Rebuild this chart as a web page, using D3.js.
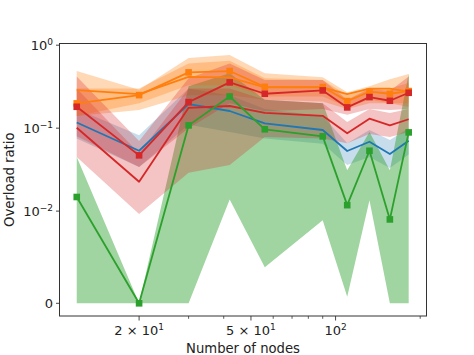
<!DOCTYPE html>
<html><head><meta charset="utf-8">
<script src="https://cdn.jsdelivr.net/npm/d3@7"></script>
<style>
body{margin:0;background:#fff}
text{font-family:"DejaVu Sans",sans-serif;fill:#222}
</style>
</head><body><svg id="c" width="474" height="355"></svg>
<script>
// ---- data ----
const nodes = [12, 20, 30, 42, 56, 90, 110, 132, 156, 182];

const blueLine = [0.117, 0.0534, 0.195, 0.161, 0.114, 0.095, 0.053, 0.0686, 0.0488, 0.0705];
const blueLow  = [0.075, 0.034, 0.11, 0.09, 0.075, 0.065, 0.036, 0.045, 0.033, 0.048];
const blueHigh = [0.17, 0.082, 0.3, 0.25, 0.17, 0.14, 0.066, 0.095, 0.072, 0.1];

const orangeLine = [0.288, 0.257, 0.416, 0.41, 0.31, 0.31, 0.257, 0.30, 0.30, 0.275];
const orangeLow  = [0.14, 0.165, 0.25, 0.25, 0.22, 0.21, 0.17, 0.2, 0.2, 0.18];
const orangeHigh = [0.49, 0.29, 0.70, 0.76, 0.46, 0.41, 0.27, 0.32, 0.39, 0.45];

const orangeSq     = [0.199, 0.25, 0.47, 0.488, 0.315, 0.313, 0.212, 0.275, 0.26, 0.28];
const orangeSqLow  = [0.14, 0.2, 0.33, 0.33, 0.24, 0.24, 0.18, 0.22, 0.2, 0.2];
const orangeSqHigh = [0.3, 0.3, 0.6, 0.65, 0.4, 0.38, 0.25, 0.3, 0.3, 0.35];

const redLine = [0.101, 0.0226, 0.176, 0.185, 0.153, 0.141, 0.0866, 0.13, 0.108, 0.128];
const redLow  = [0.045, 0.0097, 0.029, 0.036, 0.078, 0.075, 0.066, 0.085, 0.078, 0.09];
const redHigh = [0.3, 0.05, 0.3, 0.3, 0.22, 0.2, 0.119, 0.17, 0.152, 0.17];

const redSq     = [0.181, 0.047, 0.206, 0.356, 0.26, 0.285, 0.178, 0.237, 0.214, 0.267];
const redSqLow  = [0.08, 0.034, 0.1, 0.2, 0.16, 0.17, 0.145, 0.17, 0.165, 0.17];
const redSqHigh = [0.42, 0.07, 0.4, 0.6, 0.38, 0.38, 0.22, 0.3, 0.28, 0.42];

const greenSq     = [0.0148, 0, 0.108, 0.241, 0.0968, 0.0796, 0.0118, 0.0534, 0.0091, 0.0889];
const greenSqLow  = [0, 0, 0, 0.0138, 0.0039, 0.009, 0.0007, 0.0135, 0, 0];
const greenSqHigh = [0.045, 0, 0.32, 0.46, 0.22, 0.2, 0.031, 0.09, 0.031, 0.45];

const xMajorTicks = [20, 50, 100];
const xMajorLabels = [["2 × 10", "1"], ["5 × 10", "1"], ["10", "2"]];
const xMinorTicks = [30, 40, 60, 70, 80, 90, 200];
const yTicks = [0, 0.01, 0.1, 1];
const yTickLabels = [["0", ""], ["10", "−2"], ["10", "−1"], ["10", "0"]];

// ---- layout ----
const L = 59.5, R = 426.5, T = 43.5, B = 316;
const svg = d3.select("#c");

const x = d3.scaleLog().domain([10.42, 210.6]).range([L, R]);

// matplotlib-style symlog (linthresh 0.01, linscale 1)
const linthresh = 0.01, linscaleAdj = 1 / (1 - 1 / 10);
function symT(v) {
  const a = Math.abs(v);
  const r = a <= linthresh ? a / linthresh * linscaleAdj : linscaleAdj + Math.log10(a / linthresh);
  return v < 0 ? -r : r;
}
const yLin = d3.scaleLinear().domain([symT(0), symT(1)]).range([303.3, 45.2]);
const y = v => yLin(symT(v));

const colors = {blue: "#1f77b4", orange: "#ff7f0e", green: "#2ca02c", red: "#d62728"};

function rows(mid, lo, hi) { return nodes.map((n, i) => ({n, m: mid[i], lo: lo[i], hi: hi[i]})); }

const series = [
  {d: rows(blueLine, blueLow, blueHigh), c: colors.blue, sq: false, a: 0.25},
  {d: rows(orangeLine, orangeLow, orangeHigh), c: colors.orange, sq: false, a: 0.3},
  {d: rows(greenSq, greenSqLow, greenSqHigh), c: colors.green, sq: true, a: 0.45},
  {d: rows(redLine, redLow, redHigh), c: colors.red, sq: false, a: 0.28},
  {d: rows(orangeSq, orangeSqLow, orangeSqHigh), c: colors.orange, sq: true, a: 0.3},
  {d: rows(redSq, redSqLow, redSqHigh), c: colors.red, sq: true, a: 0.28},
];

const area = d3.area().x(d => x(d.n)).y0(d => y(d.lo)).y1(d => y(d.hi));
const line = d3.line().x(d => x(d.n)).y(d => y(d.m));

const gBands = svg.append("g");
series.forEach(s => {
  gBands.append("path").attr("d", area(s.d)).attr("fill", s.c).attr("fill-opacity", s.a).attr("stroke", "none");
});
const gLines = svg.append("g");
const lineOrder = [0, 1, 3, 2, 4, 5];
lineOrder.forEach(k => {
  const s = series[k];
  gLines.append("path").attr("d", line(s.d)).attr("fill", "none").attr("stroke", s.c).attr("stroke-width", 1.8).attr("stroke-linejoin", "round");
  if (s.sq) {
    gLines.selectAll(null).data(s.d).enter().append("rect")
      .attr("x", d => x(d.n) - 3.3).attr("y", d => y(d.m) - 3.3)
      .attr("width", 6.6).attr("height", 6.6).attr("fill", s.c);
  }
});

// frame
svg.append("rect").attr("x", L).attr("y", T).attr("width", R - L).attr("height", B - T)
  .attr("fill", "none").attr("stroke", "#333").attr("stroke-width", 1);

// x ticks
const gx = svg.append("g");
xMinorTicks.forEach(v => {
  gx.append("line").attr("x1", x(v)).attr("x2", x(v)).attr("y1", B).attr("y2", B + 2.8).attr("stroke", "#333").attr("stroke-width", 0.8);
});
xMajorTicks.forEach((v, i) => {
  gx.append("line").attr("x1", x(v)).attr("x2", x(v)).attr("y1", B).attr("y2", B + 4.5).attr("stroke", "#333").attr("stroke-width", 0.9);
  const t = gx.append("text").attr("x", x(v)).attr("y", 335).attr("text-anchor", "middle").attr("font-size", 13);
  t.append("tspan").text(xMajorLabels[i][0]);
  t.append("tspan").attr("dy", -5).attr("font-size", 9).text(xMajorLabels[i][1]);
});

// y ticks
const gy = svg.append("g");
yTicks.forEach((v, i) => {
  gy.append("line").attr("x1", L).attr("x2", L - 3.5).attr("y1", y(v)).attr("y2", y(v)).attr("stroke", "#333").attr("stroke-width", 0.9);
  const lab = yTickLabels[i];
  const t = gy.append("text").attr("x", L - 6.5).attr("y", y(v) + 4.6).attr("text-anchor", "end").attr("font-size", 13);
  t.append("tspan").text(lab[0]);
  if (lab[1]) t.append("tspan").attr("dy", -5).attr("font-size", 9).text(lab[1]);
});

// axis labels
svg.append("text").attr("x", (L + R) / 2).attr("y", 353).attr("text-anchor", "middle").attr("font-size", 13.2).text("Number of nodes");
svg.append("text").attr("transform", `translate(13.5,${(T + B) / 2}) rotate(-90)`).attr("text-anchor", "middle").attr("font-size", 13.2).text("Overload ratio");
</script></body></html>
